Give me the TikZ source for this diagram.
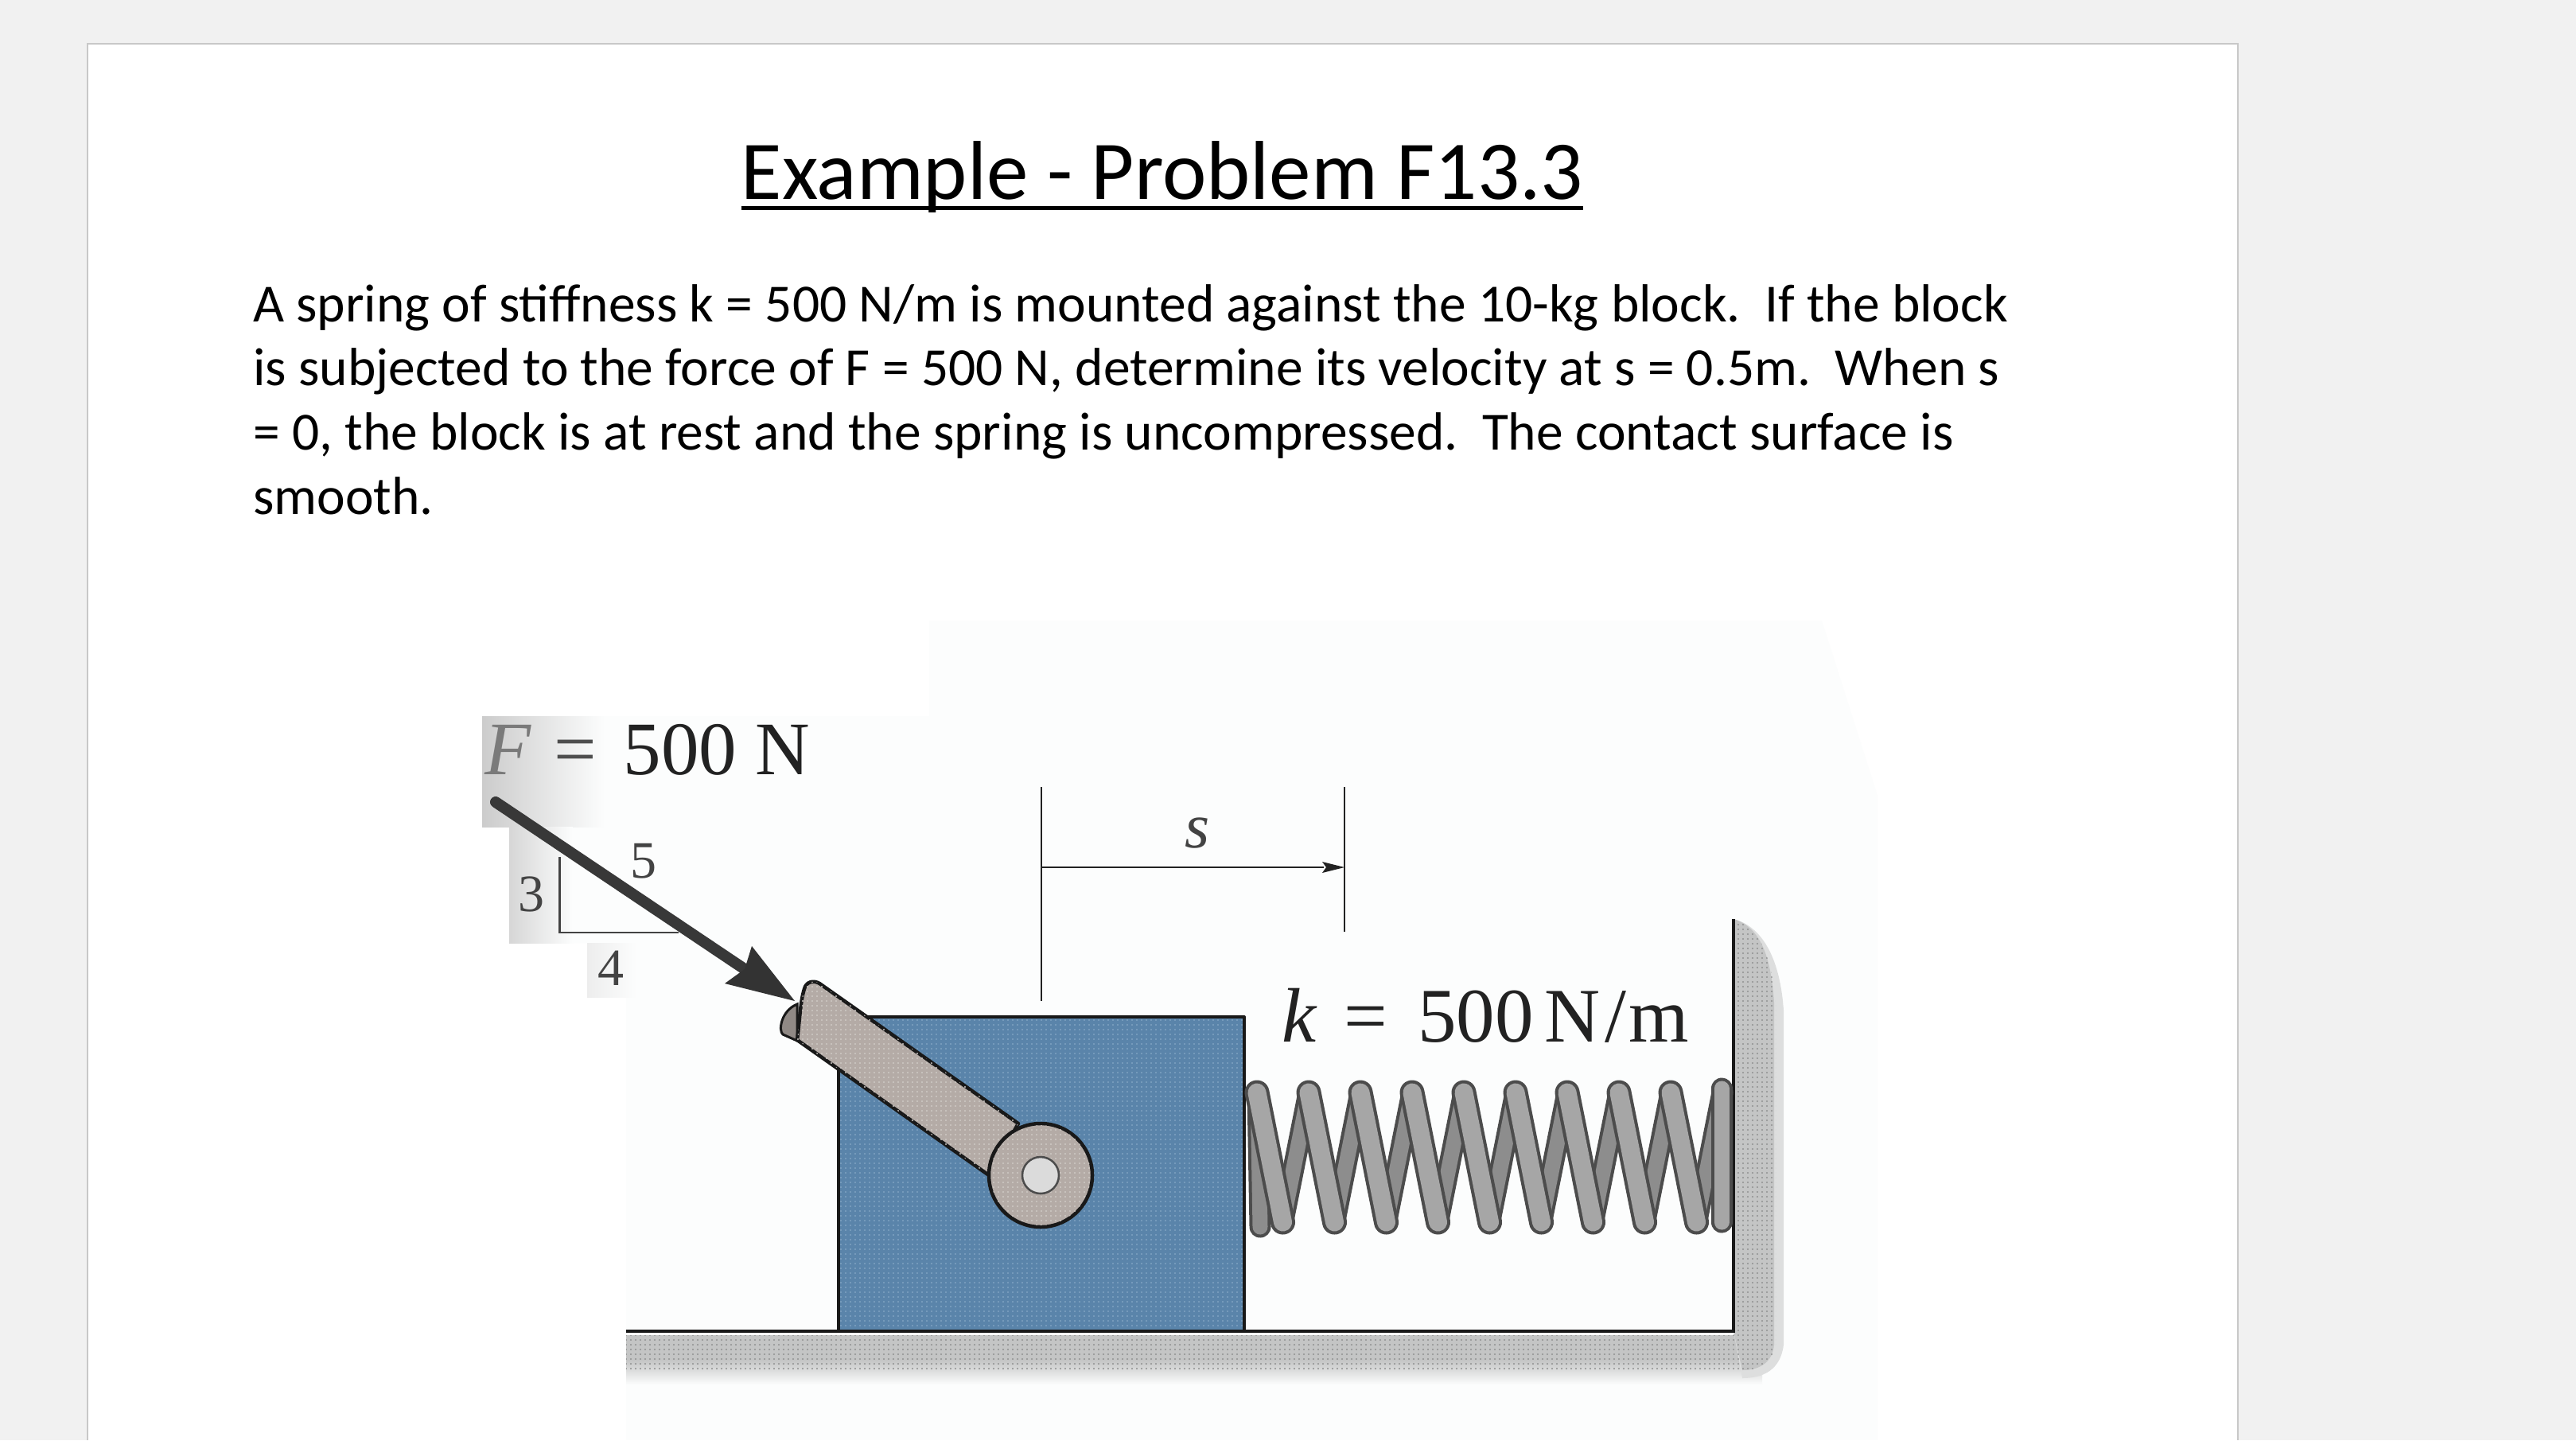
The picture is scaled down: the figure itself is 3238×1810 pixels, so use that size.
\documentclass[tikz,border=0pt]{standalone}
\usepackage{fontspec}
\setmainfont{Carlito}
\newfontfamily\figfont{Liberation Serif}
\usetikzlibrary{calc,patterns.meta}
\definecolor{pagebg}{HTML}{F1F1F1}
\definecolor{pageline}{HTML}{C8C8C8}
\definecolor{figbg}{HTML}{FCFDFD}
\definecolor{blockblue}{HTML}{5A84AA}
\definecolor{blockspeck}{HTML}{7FA3C2}
\definecolor{rodgrey}{HTML}{B4ABA6}
\definecolor{rodspeck}{HTML}{CFC9C5}
\definecolor{inkdark}{HTML}{222222}
\definecolor{hatchgrey}{HTML}{C4C5C5}
\definecolor{hatchspeck}{HTML}{8F9090}
\definecolor{coilgrey}{HTML}{A6A6A6}
\tikzset{
  figtext/.style={inner sep=0pt,anchor=base west,text=inkdark,font=\figfont\fontsize{95}{100}\selectfont},
  smalltext/.style={inner sep=0pt,anchor=center,text=inkdark!85,font=\figfont\fontsize{66}{70}\selectfont},
  thinline/.style={draw=inkdark,line width=2.6pt},
  thick outline/.style={draw=black!90,line width=4.5pt,line join=round},
  coildark/.style={draw=black!70,line width=31pt,line cap=round},
  coillight/.style={draw=coilgrey,line width=23pt,line cap=round},
  speck/.style={pattern={Dots[distance=6pt,radius=1.1pt,xshift=1pt]},pattern color=#1}
}
\begin{document}
\begin{tikzpicture}[x=1pt,y=-1pt]
\useasboundingbox (0,0) rectangle (3238,1810);
\fill[pagebg] (0,0) rectangle (3238,1810);
\fill[white] (110,55) rectangle (2813,1810);
\draw[pageline,line width=2pt] (110,1810) -- (110,55) -- (2813,55) -- (2813,1810);
% heading
\node[inner sep=0pt,anchor=base,font=\fontsize{105}{112}\selectfont,text=black] (title) at (1461,250) {Example - Problem F13.3};
\draw[black,line width=5pt] ($(title.base west)+(0,11)$) -- ($(title.base east)+(0,11)$);
% statement
\node[inner sep=0pt,anchor=north west,align=left,text=black,font=\fontsize{67.5}{80.8}\selectfont] (statement) at (318,357)
 {\frenchspacing A spring of stiffness k = 500 N/m is mounted against the 10-kg block.\ \ If the block\\
 is subjected to the force of F = 500 N, determine its velocity at s = 0.5m.\ \ When s\\
 = 0, the block is at rest and the spring is uncompressed.\ \ The contact surface is\\
 smooth.};
% scanned figure backdrop
\fill[figbg] (1168,780) -- (2290,780) -- (2360,1000) -- (2360,1810) -- (787,1810) -- (787,1253)
  -- (738,1253) -- (738,1185) -- (640,1185) -- (640,1039) -- (606,1039) -- (606,900) -- (1168,900) -- cycle;
\shade[left color=black!20,right color=figbg] (606,900) rectangle (760,1039);
\shade[left color=black!16,right color=figbg] (640,1039) rectangle (720,1185);
\shade[left color=black!7,right color=figbg] (738,1185) rectangle (800,1253);
% wall and floor shadow
\shade[top color=hatchgrey,bottom color=figbg,middle color=hatchgrey] (787,1678) rectangle (2215,1740);
\fill[hatchgrey!55!figbg] (2179,1155) .. controls (2218,1165) and (2238,1210) .. (2242,1270) -- (2242,1690)
  .. controls (2238,1722) and (2216,1732) .. (2190,1732) -- (2179,1673) -- cycle;
\fill[hatchgrey] (2179,1155) .. controls (2212,1165) and (2226,1200) .. (2230,1260) -- (2230,1690)
  .. controls (2228,1712) and (2212,1722) .. (2190,1722) -- (2179,1673) -- cycle;
\path[speck=hatchspeck] (2179,1155) .. controls (2212,1165) and (2226,1200) .. (2232,1260) -- (2232,1690)
  .. controls (2228,1712) and (2212,1722) .. (2190,1722) -- (787,1722) -- (787,1678) -- (2179,1678) -- cycle;
% block
\fill[blockblue] (1054,1278) rectangle (1564,1673);
\path[speck=blockspeck] (1054,1278) rectangle (1564,1673);
\draw[thick outline,line width=4pt] (1054,1673) -- (1054,1278) -- (1564,1278) -- (1564,1673);
% ground and wall
\coordinate (floorL) at (787,1673);
\coordinate (corner) at (2179,1673);
\coordinate (wallT) at (2179,1155);
\draw[draw=black!90,line width=4.5pt,line join=miter] (floorL) -- (corner) -- (wallT);
% rod
\coordinate (rodA) at (1033,1238);
\coordinate (rodB) at (1280,1412);
\coordinate (rodC) at (1243,1477);
\coordinate (rodD) at (1002,1307);
\filldraw[fill=rodgrey!80!black,draw=black!90,line width=3pt] (1002,1262) .. controls (982,1270) and (978,1295) .. (984,1300) -- (1002,1308) -- cycle;
\filldraw[fill=rodgrey,thick outline] (rodD) .. controls (1005,1285) and (1006,1255) .. (1012,1240)
  .. controls (1016,1232) and (1026,1232) .. (rodA) -- (rodB) -- (rodC) -- cycle;
\path[speck=rodspeck] (rodD) .. controls (1005,1285) and (1006,1255) .. (1012,1240)
  .. controls (1016,1232) and (1026,1232) .. (rodA) -- (rodB) -- (rodC) -- cycle;
\node[circle,minimum size=130pt,inner sep=0pt,fill=rodgrey,thick outline] (eye) at (1308,1477) {};
\path[speck=rodspeck] (eye) circle[radius=63pt];
\node[circle,minimum size=46pt,inner sep=0pt,fill=black!14,draw=black!70,line width=2.5pt] (pin) at (1308,1477) {};
% spring: rear strands first, then the front ones
\foreach \i in {0,...,8}{
  \draw[coildark,line width=27pt] ({1612.5+65*\i},1536) -- ({1645+65*\i},1373);
  \draw[coillight,draw=coilgrey!85!black,line width=19pt] ({1612.5+65*\i},1536) -- ({1645+65*\i},1373);
}
\draw[coildark,line width=27pt] (1581,1373) -- (1584,1542);
\draw[coillight,draw=coilgrey!85!black,line width=19pt] (1581,1373) -- (1584,1542);
\foreach \i in {0,...,8}{
  \draw[coildark] ({1580+65*\i},1373) -- ({1612.5+65*\i},1536);
  \draw[coillight] ({1580+65*\i},1373) -- ({1612.5+65*\i},1536);
}
\draw[coildark,line width=27pt] (2164,1368) -- (2164,1536);
\draw[coillight,line width=19pt] (2164,1368) -- (2164,1536);
% force arrow
\coordinate (tail) at (623,1008);
\coordinate (notch) at (936,1218);
\coordinate (tip) at (999,1258);
\coordinate (barbA) at (945,1189);
\coordinate (barbB) at (911,1236);
\draw[draw=inkdark!85,line width=2.6pt] (703.5,1077) -- (703.5,1172) -- (853,1172);
\draw[draw=black!78,line width=14pt,line cap=round] (tail) -- (notch);
\fill[black!80] (tip) -- (barbA) -- (notch) -- (barbB) -- cycle;
% dimension s
\coordinate (dimLT) at (1309,989);
\coordinate (dimLB) at (1309,1258);
\coordinate (dimRT) at (1690,989);
\coordinate (dimRB) at (1690,1171);
\coordinate (dimL) at (1309,1090);
\coordinate (dimR) at (1690,1090);
\coordinate (dimN) at (1664,1090);
\draw[thinline] (dimLT) -- (dimLB);
\draw[thinline] (dimRT) -- (dimRB);
\draw[thinline] (dimL) -- (dimN);
\fill[inkdark] (dimR) -- (1662,1083) -- (1667,1090) -- (1662,1097) -- cycle;
% labels
\node[figtext] (forcelabel) at (609,973) {\textcolor{inkdark!60}{\textit{F}}\hspace{28pt}\textcolor{inkdark!80}{=}\hspace{34pt}500 N};
\node[smalltext] (five) at (809,1082) {5};
\node[smalltext] (three) at (668,1124) {3};
\node[smalltext] (four) at (768,1217) {4};
\node[smalltext,font=\figfont\itshape\fontsize{80}{84}\selectfont] (slabel) at (1505,1047) {s};
\node[figtext,font=\figfont\fontsize{97}{100}\selectfont] (klabel) at (1611,1309) {\textit{k}\hspace{34pt}=\hspace{38pt}500\hspace{14pt}N\hspace{6pt}/\hspace{3pt}m};
\end{tikzpicture}
\end{document}
